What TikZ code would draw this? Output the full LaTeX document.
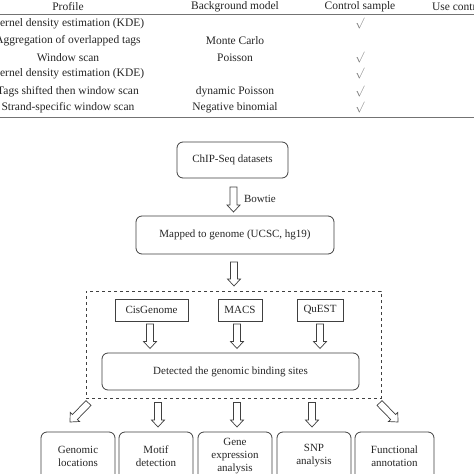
\documentclass[tikz,border=0pt]{standalone}
\usepackage{fontspec}
\setmainfont{Liberation Serif}
\usetikzlibrary{calc}
\newcommand\harrow[2]{%
  \coordinate (hn) at ($(#2)!7pt!(#1)$);
  \draw[harrowline] ($(#1)!3.5pt!90:(#2)$) -- ($(hn)!3.5pt!90:(#2)$) -- ($(hn)!6.5pt!90:(#2)$) -- (#2)
    -- ($(hn)!6.5pt!-90:(#2)$) -- ($(hn)!3.5pt!-90:(#2)$) -- ($(#1)!3.5pt!-90:(#2)$) -- cycle;}
\begin{document}
\begin{tikzpicture}[x=1pt,y=-1pt,
  every node/.style={inner sep=0pt,outer sep=0pt,text=black!85},
  tabtxt/.style={font=\fontsize{11.5}{13}\selectfont},
  flowtxt/.style={font=\fontsize{11}{13}\selectfont},
  rbox/.style={draw=black!75,line width=0.8pt,rounded corners=6pt,flowtxt,align=center},
  sbox/.style={draw=black!75,line width=0.8pt,flowtxt},
  grpbox/.style={draw=black!75,line width=0.8pt,dashed},
  harrowline/.style={draw=black!75,line width=0.7pt,fill=white,line join=miter},
  rule/.style={draw=black!55,line width=1.4pt},
  chk/.style={text=black!55,font=\fontsize{11}{13}\selectfont}]
\useasboundingbox (0,0) rectangle (474,474);
\clip (0,0) rectangle (474,474);
\fill[white] (0,0) rectangle (474,474);
% ---------- table ----------
\node[tabtxt] (h1) at (68,7) {Profile};
\node[tabtxt] (h2) at (235,7) {Background model};
\node[tabtxt] (h3) at (360,7) {Control sample};
\node[tabtxt,anchor=west] (h4) at (432,7) {Use control};
\draw[rule] (0,14.5) -- (474,14.5);
\node[tabtxt] (r1a) at (68,24) {Kernel density estimation (KDE)};
\node[chk] (r1c) at (360,24) {$\surd$};
\node[tabtxt] (r2a) at (68,41) {Aggregation of overlapped tags};
\node[tabtxt] (r2b) at (235,41) {Monte Carlo};
\node[tabtxt] (r3a) at (68,57.5) {Window scan};
\node[tabtxt] (r3b) at (235,57.5) {Poisson};
\node[chk] (r3c) at (360,57.5) {$\surd$};
\node[tabtxt] (r4a) at (68,74) {Kernel density estimation (KDE)};
\node[chk] (r4c) at (360,74) {$\surd$};
\node[tabtxt] (r5a) at (68,91.5) {Tags shifted then window scan};
\node[tabtxt] (r5b) at (235,91.5) {dynamic Poisson};
\node[chk] (r5c) at (360,91.5) {$\surd$};
\node[tabtxt] (r6a) at (68,108) {Strand-specific window scan};
\node[tabtxt] (r6b) at (235,108) {Negative binomial};
\node[chk] (r6c) at (360,108) {$\surd$};
\draw[rule,line width=1.8pt] (0,117.5) -- (474,117.5);
% ---------- flowchart ----------
\node[rbox,minimum width=111,minimum height=36] (chip) at (232.5,160) {ChIP-Seq datasets};
\node[rbox,minimum width=198,minimum height=38] (map) at (235,235) {Mapped to genome (UCSC, hg19)};
\node[grpbox,minimum width=295,minimum height=107] (grp) at (233.5,344.5) {};
\node[sbox,minimum width=73,minimum height=22] (cis) at (151.5,310) {CisGenome};
\node[sbox,minimum width=44,minimum height=22] (macs) at (240,310) {MACS};
\node[sbox,minimum width=46,minimum height=22] (quest) at (320,310) {QuEST};
\node[rbox,minimum width=257,minimum height=37] (det) at (230.5,371.5) {Detected the genomic binding sites};
\node[rbox,minimum width=74,minimum height=48] (b1) at (78,456) {Genomic\\locations};
\node[rbox,minimum width=74,minimum height=48] (b2) at (156,456) {Motif\\detection};
\node[rbox,minimum width=74,minimum height=48] (b3) at (235,456) {Gene\\expression\\analysis};
\node[rbox,minimum width=74,minimum height=48] (b4) at (314,456) {SNP\\analysis};
\node[rbox,minimum width=79,minimum height=48] (b5) at (394.5,456) {Functional\\annotation};
% arrows
\coordinate (a1s) at ($(chip.south)+(1,9)$);
\coordinate (a1e) at ($(map.north)+(-1.5,-4)$);
\harrow{a1s}{a1e}
\node[flowtxt,anchor=west] (bow) at (244,199) {Bowtie};
\coordinate (a2s) at ($(map.south)+(-1,8)$);
\coordinate (a2e) at ($(grp.north)+(0.5,-5)$);
\harrow{a2s}{a2e}
\foreach \n/\x in {cis/150,macs/237,quest/320}{
  \coordinate (\n s) at ($(\n.south)!0!(\n.south)+(0,3)$);
  \coordinate (s\n) at (\x,324);
  \coordinate (e\n) at (\x,348.5);
  \harrow{s\n}{e\n}
}
\coordinate (d1s) at (88.5,403);
\coordinate (d1e) at (70,422);
\harrow{d1s}{d1e}
\foreach \x/\k in {158/2,237/3,312/4}{
  \coordinate (d\k s) at (\x,402.5);
  \coordinate (d\k e) at (\x,427);
  \harrow{d\k s}{d\k e}
}
\coordinate (d5s) at (379.5,403);
\coordinate (d5e) at (398,422);
\harrow{d5s}{d5e}
\end{tikzpicture}
\end{document}
